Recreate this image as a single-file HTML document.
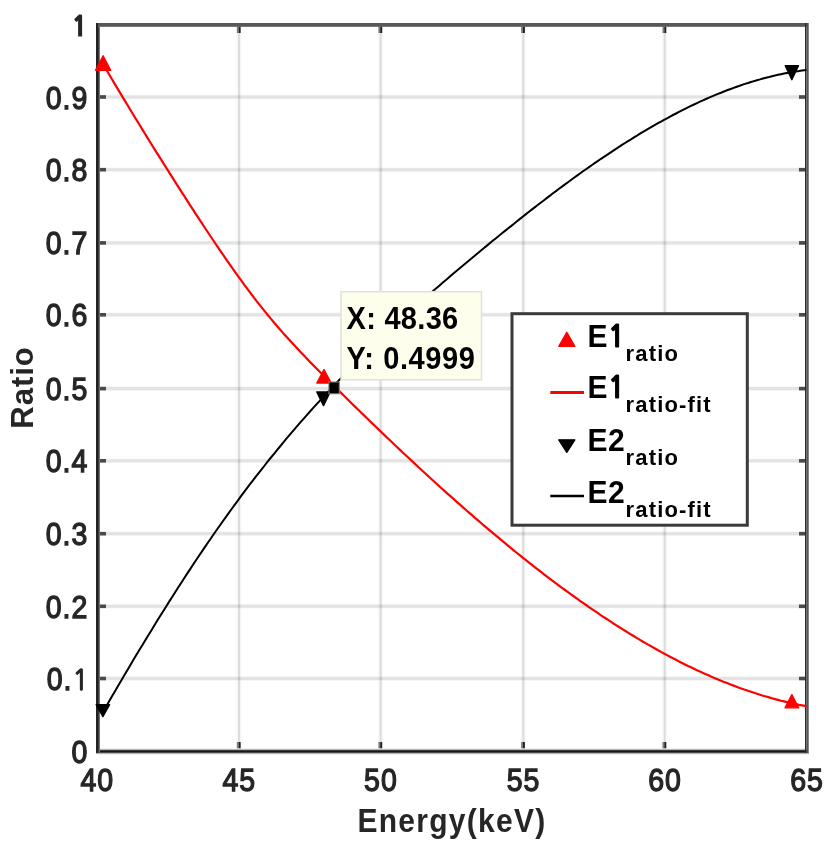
<!DOCTYPE html>
<html><head><meta charset="utf-8"><title>Ratio vs Energy</title>
<style>html,body{margin:0;padding:0;background:#fff;}body{width:838px;height:857px;overflow:hidden;}svg{display:block;}</style>
</head><body>
<svg width="838" height="857" viewBox="0 0 838 857">
<rect x="236.45" y="23.0" width="5.2" height="729.8" fill="#000" fill-opacity="0.025"/><rect x="378.00" y="23.0" width="5.2" height="729.8" fill="#000" fill-opacity="0.025"/><rect x="520.70" y="23.0" width="5.2" height="729.8" fill="#000" fill-opacity="0.025"/><rect x="662.10" y="23.0" width="5.2" height="729.8" fill="#000" fill-opacity="0.025"/><rect x="96.0" y="676.00" width="713.0" height="5" fill="#000" fill-opacity="0.025"/><rect x="96.0" y="603.80" width="713.0" height="5" fill="#000" fill-opacity="0.025"/><rect x="96.0" y="531.20" width="713.0" height="5" fill="#000" fill-opacity="0.025"/><rect x="96.0" y="458.30" width="713.0" height="5" fill="#000" fill-opacity="0.025"/><rect x="96.0" y="386.10" width="713.0" height="5" fill="#000" fill-opacity="0.025"/><rect x="96.0" y="312.30" width="713.0" height="5" fill="#000" fill-opacity="0.025"/><rect x="96.0" y="240.40" width="713.0" height="5" fill="#000" fill-opacity="0.025"/><rect x="96.0" y="167.20" width="713.0" height="5" fill="#000" fill-opacity="0.025"/><rect x="96.0" y="94.50" width="713.0" height="5" fill="#000" fill-opacity="0.025"/><rect x="237.95" y="23.0" width="2.2" height="729.8" fill="#000" fill-opacity="0.11"/><rect x="379.50" y="23.0" width="2.2" height="729.8" fill="#000" fill-opacity="0.11"/><rect x="522.20" y="23.0" width="2.2" height="729.8" fill="#000" fill-opacity="0.11"/><rect x="663.60" y="23.0" width="2.2" height="729.8" fill="#000" fill-opacity="0.11"/><rect x="96.0" y="676.90" width="713.0" height="3.2" fill="#000" fill-opacity="0.085"/><rect x="96.0" y="604.70" width="713.0" height="3.2" fill="#000" fill-opacity="0.085"/><rect x="96.0" y="532.10" width="713.0" height="3.2" fill="#000" fill-opacity="0.085"/><rect x="96.0" y="459.20" width="713.0" height="3.2" fill="#000" fill-opacity="0.085"/><rect x="96.0" y="387.00" width="713.0" height="3.2" fill="#000" fill-opacity="0.085"/><rect x="96.0" y="313.20" width="713.0" height="3.2" fill="#000" fill-opacity="0.085"/><rect x="96.0" y="241.30" width="713.0" height="3.2" fill="#000" fill-opacity="0.085"/><rect x="96.0" y="168.10" width="713.0" height="3.2" fill="#000" fill-opacity="0.085"/><rect x="96.0" y="95.40" width="713.0" height="3.2" fill="#000" fill-opacity="0.085"/>
<rect x="236.85" y="742.0" width="1.8" height="8.5" fill="#7a7a7a"/><rect x="238.65" y="742.0" width="2.0" height="8.5" fill="#222"/><rect x="236.85" y="26.5" width="1.8" height="6.5" fill="#7a7a7a"/><rect x="238.65" y="26.5" width="2.0" height="6.5" fill="#222"/><rect x="378.40" y="742.0" width="1.8" height="8.5" fill="#7a7a7a"/><rect x="380.20" y="742.0" width="2.0" height="8.5" fill="#222"/><rect x="378.40" y="26.5" width="1.8" height="6.5" fill="#7a7a7a"/><rect x="380.20" y="26.5" width="2.0" height="6.5" fill="#222"/><rect x="521.10" y="742.0" width="1.8" height="8.5" fill="#7a7a7a"/><rect x="522.90" y="742.0" width="2.0" height="8.5" fill="#222"/><rect x="521.10" y="26.5" width="1.8" height="6.5" fill="#7a7a7a"/><rect x="522.90" y="26.5" width="2.0" height="6.5" fill="#222"/><rect x="662.50" y="742.0" width="1.8" height="8.5" fill="#7a7a7a"/><rect x="664.30" y="742.0" width="2.0" height="8.5" fill="#222"/><rect x="662.50" y="26.5" width="1.8" height="6.5" fill="#7a7a7a"/><rect x="664.30" y="26.5" width="2.0" height="6.5" fill="#222"/><rect x="99" y="676.70" width="7" height="3.6" fill="#4a4a4a"/><rect x="799" y="676.70" width="7" height="3.6" fill="#4a4a4a"/><rect x="99" y="604.50" width="7" height="3.6" fill="#4a4a4a"/><rect x="799" y="604.50" width="7" height="3.6" fill="#4a4a4a"/><rect x="99" y="531.90" width="7" height="3.6" fill="#4a4a4a"/><rect x="799" y="531.90" width="7" height="3.6" fill="#4a4a4a"/><rect x="99" y="459.00" width="7" height="3.6" fill="#4a4a4a"/><rect x="799" y="459.00" width="7" height="3.6" fill="#4a4a4a"/><rect x="99" y="386.80" width="7" height="3.6" fill="#4a4a4a"/><rect x="799" y="386.80" width="7" height="3.6" fill="#4a4a4a"/><rect x="99" y="313.00" width="7" height="3.6" fill="#4a4a4a"/><rect x="799" y="313.00" width="7" height="3.6" fill="#4a4a4a"/><rect x="99" y="241.10" width="7" height="3.6" fill="#4a4a4a"/><rect x="799" y="241.10" width="7" height="3.6" fill="#4a4a4a"/><rect x="99" y="167.90" width="7" height="3.6" fill="#4a4a4a"/><rect x="799" y="167.90" width="7" height="3.6" fill="#4a4a4a"/><rect x="99" y="95.20" width="7" height="3.6" fill="#4a4a4a"/><rect x="799" y="95.20" width="7" height="3.6" fill="#4a4a4a"/>
<rect x="96.0" y="748.3" width="713.0" height="6.4" fill="#ececec"/><rect x="96.0" y="749.6" width="713.0" height="3.8" fill="#6a6a6a"/><rect x="96.0" y="750.4" width="713.0" height="2.0" fill="#181818"/><rect x="96.0" y="23.0" width="713.0" height="3.8" fill="#575757"/><rect x="96" y="23.0" width="2" height="729.8" fill="#222"/><rect x="98" y="26.8" width="1" height="726.0" fill="#3c3c3c"/><rect x="99" y="26.8" width="1" height="726.0" fill="#737373"/><rect x="805" y="23.0" width="1.5" height="729.8" fill="#2a2a2a"/><rect x="806.5" y="23.0" width="1.5" height="729.8" fill="#555"/><rect x="808" y="23.0" width="1" height="729.8" fill="#8a8a8a"/>
<path d="M103.0,64.1 L106.0,69.2 L109.0,74.3 L112.0,79.3 L115.0,84.4 L118.0,89.4 L121.0,94.4 L124.0,99.4 L127.0,104.3 L130.0,109.3 L133.0,114.2 L136.0,119.1 L139.0,124.0 L142.0,128.9 L145.0,133.8 L148.0,138.6 L151.0,143.5 L154.0,148.3 L157.0,153.1 L160.0,157.9 L163.0,162.7 L166.0,167.4 L169.0,172.2 L172.0,176.9 L175.0,181.7 L178.0,186.4 L181.0,191.1 L184.0,195.7 L187.0,200.4 L190.0,205.1 L193.0,209.7 L196.0,214.3 L199.0,218.9 L202.0,223.4 L205.0,228.0 L208.0,232.5 L211.0,237.0 L214.0,241.5 L217.0,245.9 L220.0,250.3 L223.0,254.7 L226.0,259.1 L229.0,263.4 L232.0,267.7 L235.0,271.9 L238.0,276.1 L241.0,280.2 L244.0,284.3 L247.0,288.4 L250.0,292.4 L253.0,296.4 L256.0,300.3 L259.0,304.1 L262.0,307.9 L265.0,311.6 L268.0,315.3 L271.0,318.9 L274.0,322.5 L277.0,326.0 L280.0,329.4 L283.0,332.9 L286.0,336.2 L289.0,339.6 L292.0,342.8 L295.0,346.1 L298.0,349.3 L301.0,352.5 L304.0,355.6 L307.0,358.8 L310.0,361.9 L313.0,364.9 L316.0,368.0 L319.0,371.0 L322.0,374.0 L325.0,377.0 L328.0,380.0 L331.0,383.0 L334.0,386.0 L337.0,388.9 L340.0,391.9 L343.0,394.8 L346.0,397.8 L349.0,400.7 L352.0,403.7 L355.0,406.6 L358.0,409.5 L361.0,412.5 L364.0,415.4 L367.0,418.3 L370.0,421.2 L373.0,424.1 L376.0,427.0 L379.0,429.9 L382.0,432.8 L385.0,435.6 L388.0,438.5 L391.0,441.3 L394.0,444.2 L397.0,447.0 L400.0,449.9 L403.0,452.7 L406.0,455.5 L409.0,458.3 L412.0,461.1 L415.0,463.9 L418.0,466.7 L421.0,469.5 L424.0,472.2 L427.0,475.0 L430.0,477.8 L433.0,480.5 L436.0,483.2 L439.0,486.0 L442.0,488.7 L445.0,491.4 L448.0,494.1 L451.0,496.7 L454.0,499.4 L457.0,502.1 L460.0,504.7 L463.0,507.4 L466.0,510.0 L469.0,512.6 L472.0,515.2 L475.0,517.8 L478.0,520.4 L481.0,523.0 L484.0,525.6 L487.0,528.1 L490.0,530.7 L493.0,533.2 L496.0,535.7 L499.0,538.2 L502.0,540.7 L505.0,543.2 L508.0,545.7 L511.0,548.1 L514.0,550.6 L517.0,553.0 L520.0,555.4 L523.0,557.8 L526.0,560.2 L529.0,562.6 L532.0,564.9 L535.0,567.3 L538.0,569.6 L541.0,571.9 L544.0,574.3 L547.0,576.6 L550.0,578.8 L553.0,581.1 L556.0,583.3 L559.0,585.6 L562.0,587.8 L565.0,590.0 L568.0,592.2 L571.0,594.4 L574.0,596.5 L577.0,598.7 L580.0,600.8 L583.0,602.9 L586.0,605.0 L589.0,607.1 L592.0,609.2 L595.0,611.2 L598.0,613.2 L601.0,615.3 L604.0,617.3 L607.0,619.2 L610.0,621.2 L613.0,623.2 L616.0,625.1 L619.0,627.0 L622.0,628.9 L625.0,630.8 L628.0,632.6 L631.0,634.5 L634.0,636.3 L637.0,638.1 L640.0,639.9 L643.0,641.7 L646.0,643.4 L649.0,645.1 L652.0,646.8 L655.0,648.5 L658.0,650.2 L661.0,651.9 L664.0,653.5 L667.0,655.1 L670.0,656.7 L673.0,658.3 L676.0,659.8 L679.0,661.4 L682.0,662.9 L685.0,664.4 L688.0,665.9 L691.0,667.3 L694.0,668.7 L697.0,670.2 L700.0,671.6 L703.0,672.9 L706.0,674.3 L709.0,675.6 L712.0,676.9 L715.0,678.2 L718.0,679.4 L721.0,680.7 L724.0,681.9 L727.0,683.1 L730.0,684.3 L733.0,685.4 L736.0,686.5 L739.0,687.7 L742.0,688.7 L745.0,689.8 L748.0,690.8 L751.0,691.8 L754.0,692.8 L757.0,693.8 L760.0,694.7 L763.0,695.7 L766.0,696.5 L769.0,697.4 L772.0,698.3 L775.0,699.1 L778.0,699.9 L781.0,700.7 L784.0,701.4 L787.0,702.1 L790.0,702.8 L793.0,703.5 L796.0,704.1 L799.0,704.8 L802.0,705.3 L806.5,706.2" fill="none" stroke="#ff0000" stroke-width="2.2" stroke-linejoin="round"/>
<path d="M103.0,711.9 L106.0,706.7 L109.0,701.5 L112.0,696.3 L115.0,691.2 L118.0,686.0 L121.0,680.9 L124.0,675.8 L127.0,670.7 L130.0,665.7 L133.0,660.6 L136.0,655.6 L139.0,650.6 L142.0,645.7 L145.0,640.7 L148.0,635.8 L151.0,630.9 L154.0,626.0 L157.0,621.1 L160.0,616.3 L163.0,611.5 L166.0,606.7 L169.0,601.9 L172.0,597.2 L175.0,592.5 L178.0,587.8 L181.0,583.2 L184.0,578.5 L187.0,573.9 L190.0,569.4 L193.0,564.8 L196.0,560.3 L199.0,555.8 L202.0,551.4 L205.0,546.9 L208.0,542.5 L211.0,538.2 L214.0,533.8 L217.0,529.5 L220.0,525.2 L223.0,521.0 L226.0,516.8 L229.0,512.6 L232.0,508.5 L235.0,504.3 L238.0,500.3 L241.0,496.2 L244.0,492.2 L247.0,488.2 L250.0,484.2 L253.0,480.3 L256.0,476.4 L259.0,472.6 L262.0,468.8 L265.0,465.0 L268.0,461.2 L271.0,457.5 L274.0,453.8 L277.0,450.1 L280.0,446.5 L283.0,442.8 L286.0,439.2 L289.0,435.7 L292.0,432.2 L295.0,428.7 L298.0,425.2 L301.0,421.7 L304.0,418.3 L307.0,414.9 L310.0,411.5 L313.0,408.2 L316.0,404.9 L319.0,401.6 L322.0,398.3 L325.0,395.1 L328.0,391.8 L331.0,388.6 L334.0,385.4 L337.0,382.3 L340.0,379.2 L343.0,376.0 L346.0,373.0 L349.0,369.9 L352.0,366.8 L355.0,363.8 L358.0,360.8 L361.0,357.8 L364.0,354.8 L367.0,351.9 L370.0,349.0 L373.0,346.0 L376.0,343.2 L379.0,340.3 L382.0,337.4 L385.0,334.6 L388.0,331.7 L391.0,328.9 L394.0,326.1 L397.0,323.4 L400.0,320.6 L403.0,317.9 L406.0,315.1 L409.0,312.4 L412.0,309.7 L415.0,307.0 L418.0,304.3 L421.0,301.7 L424.0,299.0 L427.0,296.4 L430.0,293.7 L433.0,291.1 L436.0,288.5 L439.0,285.9 L442.0,283.3 L445.0,280.8 L448.0,278.2 L451.0,275.6 L454.0,273.1 L457.0,270.6 L460.0,268.0 L463.0,265.5 L466.0,263.0 L469.0,260.5 L472.0,258.0 L475.0,255.5 L478.0,253.0 L481.0,250.5 L484.0,248.0 L487.0,245.6 L490.0,243.1 L493.0,240.6 L496.0,238.2 L499.0,235.8 L502.0,233.3 L505.0,230.9 L508.0,228.5 L511.0,226.1 L514.0,223.7 L517.0,221.3 L520.0,218.9 L523.0,216.5 L526.0,214.1 L529.0,211.8 L532.0,209.4 L535.0,207.1 L538.0,204.8 L541.0,202.5 L544.0,200.2 L547.0,197.9 L550.0,195.6 L553.0,193.3 L556.0,191.1 L559.0,188.8 L562.0,186.6 L565.0,184.4 L568.0,182.2 L571.0,180.0 L574.0,177.8 L577.0,175.6 L580.0,173.5 L583.0,171.3 L586.0,169.2 L589.0,167.1 L592.0,165.0 L595.0,162.9 L598.0,160.9 L601.0,158.8 L604.0,156.8 L607.0,154.8 L610.0,152.8 L613.0,150.8 L616.0,148.8 L619.0,146.9 L622.0,144.9 L625.0,143.0 L628.0,141.1 L631.0,139.3 L634.0,137.4 L637.0,135.6 L640.0,133.7 L643.0,131.9 L646.0,130.2 L649.0,128.4 L652.0,126.7 L655.0,124.9 L658.0,123.2 L661.0,121.6 L664.0,119.9 L667.0,118.3 L670.0,116.6 L673.0,115.0 L676.0,113.5 L679.0,111.9 L682.0,110.4 L685.0,108.9 L688.0,107.4 L691.0,105.9 L694.0,104.5 L697.0,103.1 L700.0,101.7 L703.0,100.3 L706.0,99.0 L709.0,97.7 L712.0,96.4 L715.0,95.1 L718.0,93.9 L721.0,92.7 L724.0,91.5 L727.0,90.3 L730.0,89.2 L733.0,88.1 L736.0,87.0 L739.0,86.0 L742.0,84.9 L745.0,83.9 L748.0,83.0 L751.0,82.0 L754.0,81.1 L757.0,80.2 L760.0,79.4 L763.0,78.5 L766.0,77.7 L769.0,77.0 L772.0,76.2 L775.0,75.5 L778.0,74.8 L781.0,74.2 L784.0,73.6 L787.0,73.0 L790.0,72.4 L793.0,71.9 L796.0,71.4 L799.0,71.0 L802.0,70.5 L806.5,70.0" fill="none" stroke="#000" stroke-width="2.0" stroke-linejoin="round"/>
<path d="M103.10,55.70 L110.70,70.30 L95.50,70.30 Z" fill="#f00" stroke="#f00" stroke-width="1.4" stroke-linejoin="round"/>
<path d="M324.00,369.60 L331.20,383.00 L316.80,383.00 Z" fill="#f00" stroke="#f00" stroke-width="1.4" stroke-linejoin="round"/>
<path d="M791.85,694.65 L798.65,707.85 L785.05,707.85 Z" fill="#f00" stroke="#f00" stroke-width="1.4" stroke-linejoin="round"/>
<path d="M96.20,704.60 L109.60,704.60 L102.90,716.60 Z" fill="#000" stroke="#000" stroke-width="1.4" stroke-linejoin="round"/>
<path d="M316.80,392.00 L330.20,392.00 L323.50,405.60 Z" fill="#000" stroke="#000" stroke-width="1.4" stroke-linejoin="round"/>
<path d="M785.25,65.70 L798.45,65.70 L791.85,79.70 Z" fill="#000" stroke="#000" stroke-width="1.4" stroke-linejoin="round"/>
<rect x="328.9" y="382.0" width="10.4" height="11.8" fill="#000" stroke="#7d8a7d" stroke-width="1"/>
<rect x="341.0" y="291.7" width="140.5" height="88.1" fill="#fdfeec" stroke="#e0e0dc" stroke-width="1.5"/>
<text transform="translate(346.50,328.60) scale(1,1.1)" font-size="29" font-family="'Liberation Sans', Arial, sans-serif" font-weight="bold" fill="#000" letter-spacing="0.3">X: 48.36</text>
<text transform="translate(346.50,369.00) scale(1,1.1)" font-size="29" font-family="'Liberation Sans', Arial, sans-serif" font-weight="bold" fill="#000" letter-spacing="0.6">Y: 0.4999</text>
<rect x="512.0" y="313.7" width="235.3" height="211.5" fill="#fff" stroke="#3a3a3a" stroke-width="3"/>
<path d="M566.80,332.30 L574.80,346.30 L558.80,346.30 Z" fill="#f00" stroke="#f00" stroke-width="1.4" stroke-linejoin="round"/>
<line x1="550.3" y1="392.5" x2="584" y2="392.5" stroke="#f00" stroke-width="2.8"/>
<path d="M558.80,439.85 L574.80,439.85 L566.80,452.35 Z" fill="#000" stroke="#000" stroke-width="1.4" stroke-linejoin="round"/>
<line x1="550.3" y1="496" x2="584" y2="496" stroke="#000" stroke-width="2.4"/>
<text transform="translate(587.50,346.80) scale(1,1.06)" font-size="30" font-family="'Liberation Sans', Arial, sans-serif" font-weight="bold" fill="#000" letter-spacing="0.5">E<tspan font-family="NanumGothic, sans-serif" font-size="28" stroke="#000" stroke-width="1.1">1</tspan></text>
<text x="625.60" y="360.60" font-size="22" font-family="'Liberation Sans', Arial, sans-serif" font-weight="bold" fill="#000" letter-spacing="1.15">ratio</text>
<text transform="translate(587.50,398.40) scale(1,1.06)" font-size="30" font-family="'Liberation Sans', Arial, sans-serif" font-weight="bold" fill="#000" letter-spacing="0.5">E<tspan font-family="NanumGothic, sans-serif" font-size="28" stroke="#000" stroke-width="1.1">1</tspan></text>
<text x="625.60" y="412.20" font-size="22" font-family="'Liberation Sans', Arial, sans-serif" font-weight="bold" fill="#000" letter-spacing="1.15">ratio-fit</text>
<text transform="translate(587.50,451.10) scale(1,1.06)" font-size="30" font-family="'Liberation Sans', Arial, sans-serif" font-weight="bold" fill="#000" letter-spacing="0.5">E2</text>
<text x="625.60" y="464.90" font-size="22" font-family="'Liberation Sans', Arial, sans-serif" font-weight="bold" fill="#000" letter-spacing="1.15">ratio</text>
<text transform="translate(587.50,503.20) scale(1,1.06)" font-size="30" font-family="'Liberation Sans', Arial, sans-serif" font-weight="bold" fill="#000" letter-spacing="0.5">E2</text>
<text x="625.60" y="517.00" font-size="22" font-family="'Liberation Sans', Arial, sans-serif" font-weight="bold" fill="#000" letter-spacing="1.15">ratio-fit</text>
<text transform="translate(97.30,791.00) scale(1,1.07)" font-size="28.5" font-family="'Liberation Sans', Arial, sans-serif" fill="#262626" text-anchor="middle" letter-spacing="1" stroke="#262626" stroke-width="1.2">40</text>
<text transform="translate(239.35,791.00) scale(1,1.07)" font-size="28.5" font-family="'Liberation Sans', Arial, sans-serif" fill="#262626" text-anchor="middle" letter-spacing="1" stroke="#262626" stroke-width="1.2">45</text>
<text transform="translate(380.90,791.00) scale(1,1.07)" font-size="28.5" font-family="'Liberation Sans', Arial, sans-serif" fill="#262626" text-anchor="middle" letter-spacing="1" stroke="#262626" stroke-width="1.2">50</text>
<text transform="translate(523.60,791.00) scale(1,1.07)" font-size="28.5" font-family="'Liberation Sans', Arial, sans-serif" fill="#262626" text-anchor="middle" letter-spacing="1" stroke="#262626" stroke-width="1.2">55</text>
<text transform="translate(665.00,791.00) scale(1,1.07)" font-size="28.5" font-family="'Liberation Sans', Arial, sans-serif" fill="#262626" text-anchor="middle" letter-spacing="1" stroke="#262626" stroke-width="1.2">60</text>
<text transform="translate(807.05,791.00) scale(1,1.07)" font-size="28.5" font-family="'Liberation Sans', Arial, sans-serif" fill="#262626" text-anchor="middle" letter-spacing="1" stroke="#262626" stroke-width="1.2">65</text>
<text transform="translate(88.30,762.50) scale(1,1.07)" font-size="28.5" font-family="'Liberation Sans', Arial, sans-serif" fill="#262626" text-anchor="end" letter-spacing="1" stroke="#262626" stroke-width="1.2">0</text>
<text transform="translate(89.50,690.00) scale(1,1.07)" font-size="28.5" font-family="'Liberation Sans', Arial, sans-serif" fill="#262626" text-anchor="end" letter-spacing="1" stroke="#262626" stroke-width="1.2">0.<tspan font-family="NanumGothic, sans-serif" font-size="26.5">1</tspan></text>
<text transform="translate(88.30,617.80) scale(1,1.07)" font-size="28.5" font-family="'Liberation Sans', Arial, sans-serif" fill="#262626" text-anchor="end" letter-spacing="1" stroke="#262626" stroke-width="1.2">0.2</text>
<text transform="translate(88.30,545.20) scale(1,1.07)" font-size="28.5" font-family="'Liberation Sans', Arial, sans-serif" fill="#262626" text-anchor="end" letter-spacing="1" stroke="#262626" stroke-width="1.2">0.3</text>
<text transform="translate(88.30,472.30) scale(1,1.07)" font-size="28.5" font-family="'Liberation Sans', Arial, sans-serif" fill="#262626" text-anchor="end" letter-spacing="1" stroke="#262626" stroke-width="1.2">0.4</text>
<text transform="translate(88.30,400.10) scale(1,1.07)" font-size="28.5" font-family="'Liberation Sans', Arial, sans-serif" fill="#262626" text-anchor="end" letter-spacing="1" stroke="#262626" stroke-width="1.2">0.5</text>
<text transform="translate(88.30,326.30) scale(1,1.07)" font-size="28.5" font-family="'Liberation Sans', Arial, sans-serif" fill="#262626" text-anchor="end" letter-spacing="1" stroke="#262626" stroke-width="1.2">0.6</text>
<text transform="translate(88.30,254.40) scale(1,1.07)" font-size="28.5" font-family="'Liberation Sans', Arial, sans-serif" fill="#262626" text-anchor="end" letter-spacing="1" stroke="#262626" stroke-width="1.2">0.7</text>
<text transform="translate(88.30,181.20) scale(1,1.07)" font-size="28.5" font-family="'Liberation Sans', Arial, sans-serif" fill="#262626" text-anchor="end" letter-spacing="1" stroke="#262626" stroke-width="1.2">0.8</text>
<text transform="translate(88.30,108.50) scale(1,1.07)" font-size="28.5" font-family="'Liberation Sans', Arial, sans-serif" fill="#262626" text-anchor="end" letter-spacing="1" stroke="#262626" stroke-width="1.2">0.9</text>
<text transform="translate(87.50,36.40) scale(1,1.07)" font-size="28.5" font-family="'Liberation Sans', Arial, sans-serif" font-weight="bold" fill="#262626" text-anchor="end"><tspan font-family="NanumGothic, sans-serif" font-size="26.5" stroke="#262626" stroke-width="1.1">1</tspan></text>
<text transform="translate(452.00,832.00) scale(1,1.1)" font-size="30" font-family="'Liberation Sans', Arial, sans-serif" font-weight="bold" fill="#262626" text-anchor="middle" letter-spacing="1.3">Energy(keV)</text>
<text transform="translate(33.4,387.5) rotate(-90)" font-size="31" font-family="'Liberation Sans', Arial, sans-serif" font-weight="bold" fill="#262626" text-anchor="middle" letter-spacing="1">Ratio</text>
</svg>
</body></html>
